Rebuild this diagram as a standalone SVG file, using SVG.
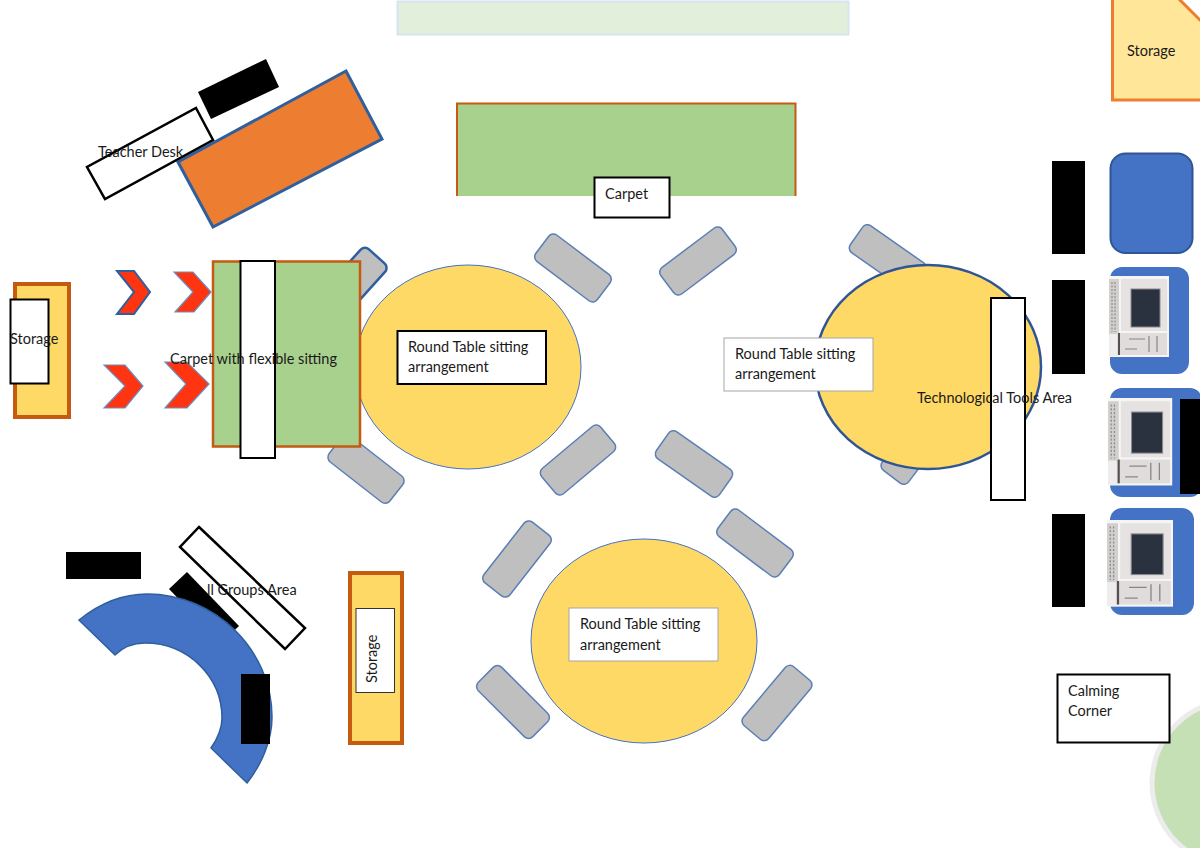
<svg xmlns="http://www.w3.org/2000/svg" width="1200" height="848" viewBox="0 0 1200 848">
<style>
text{font-family:"Lato","Open Sans","Liberation Sans",sans-serif;font-size:14.5px;fill:#1a1a1a}
.chair{fill:#bfbfbf;stroke:#5b7fb5;stroke-width:1.5}
.table{fill:#ffd966;stroke:#4472c4;stroke-width:1}
.lbl{fill:#fff;stroke:#000;stroke-width:2}
.lblthin{fill:#fff;stroke:#a6a6a6;stroke-width:1}
.blk{fill:#000}
.chev{fill:#ff3410;stroke:#6c8ebf;stroke-width:1.2}
.stor{fill:#ffd966;stroke:#c55a11;stroke-width:4}
.desk{fill:#4472c4}
</style>
<defs>
<filter id="soft" x="-5%" y="-5%" width="110%" height="110%"><feGaussianBlur stdDeviation="0.6"/></filter>
<g id="pc" filter="url(#soft)">
<rect x="0" y="0" width="60" height="81" fill="#f6f5f5"/>
<rect x="0" y="3" width="10" height="56" fill="#d2cfcf"/>
<path d="M3,6V56M6,6V56" stroke="#8f8c8c" stroke-width="1.2" stroke-dasharray="2 1.5"/>
<rect x="12" y="3" width="46" height="52" fill="#e6e2e2"/>
<rect x="22" y="13" width="29" height="38" fill="#2b3040" stroke="#8a8a8a" stroke-width="1"/>
<rect x="0" y="58" width="8" height="22" fill="#eeecec"/>
<rect x="8" y="57" width="50" height="22" fill="#e0dcdc"/>
<rect x="9" y="57" width="2" height="22" fill="#55504f"/>
<path d="M16,73H28M40,60V76M48,60V76M20,63H36" stroke="#8a8686" stroke-width="1.2"/>
</g>
<rect id="chair" x="-38.500" y="-16.500" width="77" height="33" rx="6"/>
</defs>

<rect id="banner" x="397.500" y="1.500" width="451" height="33" fill="#e2efda" stroke="#d6e4f2" stroke-width="2"/>

<g id="teacher-desk">
<polygon points="266,59 279,87 211,119 198,92" class="blk"/>
<polygon points="346,71 382,139 213,227 178,162" fill="#ed7d31" stroke="#2f5f9e" stroke-width="3"/>
<polygon points="196,108 213,140 105,199 87,167" fill="none" stroke="#000" stroke-width="2.500"/>
<text x="98" y="157">Teacher Desk</text>
</g>

<g id="carpet-top">
<rect x="457" y="103" width="339" height="93" fill="#a9d18e"/>
<path d="M457,196V103.500H795.500V196" fill="none" stroke="#c55a11" stroke-width="2"/>
<rect x="594.500" y="177.500" width="75" height="40" class="lbl"/>
<text x="605" y="199">Carpet</text>
</g>

<g id="chairs">
<use href="#chair" class="chair" transform="translate(573,268) rotate(37)"/>
<use href="#chair" class="chair" transform="translate(698,261) rotate(-37)"/>
<use href="#chair" class="chair" style="stroke:#2f5f9e;stroke-width:2.500" transform="translate(351,285) rotate(-48)"/>
<use href="#chair" class="chair" transform="translate(366,469) rotate(38)"/>
<use href="#chair" class="chair" transform="translate(578,460) rotate(-40)"/>
<use href="#chair" class="chair" transform="translate(694,464) rotate(35)"/>
<use href="#chair" class="chair" transform="translate(888,258) rotate(35)"/>
<use href="#chair" class="chair" transform="translate(915,446) rotate(-53)"/>
<use href="#chair" class="chair" transform="translate(517,559) rotate(-52)"/>
<use href="#chair" class="chair" transform="translate(755,543) rotate(37)"/>
<use href="#chair" class="chair" transform="translate(513,702) rotate(45)"/>
<use href="#chair" class="chair" transform="translate(777,703) rotate(-50)"/>
</g>

<g id="table-1">
<ellipse cx="468" cy="367" rx="113" ry="102" class="table"/>
<rect x="397.500" y="331" width="148.500" height="53" class="lbl"/>
<text x="408" y="352">Round Table sitting</text>
<text x="408" y="372">arrangement</text>
</g>

<g id="table-2">
<ellipse cx="928" cy="367" rx="113" ry="102" class="table" style="stroke:#2f5597;stroke-width:2.500"/>
<rect x="724" y="338" width="149" height="53" class="lblthin"/>
<text x="735" y="359">Round Table sitting</text>
<text x="735" y="379">arrangement</text>
</g>

<g id="table-3">
<ellipse cx="644" cy="641" rx="113" ry="102" class="table"/>
<rect x="569" y="608" width="149" height="53" class="lblthin"/>
<text x="580" y="629">Round Table sitting</text>
<text x="580" y="650">arrangement</text>
</g>

<g id="storage-left">
<rect x="15" y="284" width="54" height="133" class="stor"/>
<rect x="10.500" y="299.500" width="38" height="84" class="lbl"/>
<text x="10" y="344">Storage</text>
</g>

<g id="arrows">
<polygon points="117,271 134,271 150,292 134,314 117,314 134,292" class="chev" style="stroke:#2f5f9e;stroke-width:2"/>
<polygon points="174,272 193,272 211,292 194,312 175,312 193,292" class="chev"/>
<polygon points="104,365 125,365 143,386 125,408 104,408 125,386" class="chev"/>
<polygon points="165,362 187,362 209,384 187,408 165,408 186,384" class="chev"/>
</g>

<g id="carpet-flexible">
<rect x="213" y="261.500" width="147" height="185" fill="#a9d18e" stroke="#c55a11" stroke-width="2.500"/>
<rect x="240.500" y="261" width="34.500" height="197" class="lbl"/>
<text x="170" y="364">Carpet with flexible sitting</text>
</g>

<g id="small-groups">
<rect x="66" y="552" width="75" height="27" class="blk"/>
<polygon points="187,572 239,626 221,643 169,589" class="blk"/>
<path d="M79,620C100,603 122,594 147,594C215,594 272,650 272,717C272,740 262,764 247,783L211,748C218,738 222,728 222,718C222,677 188,643 145,643C133,643 123,647 115,655Z" fill="#4472c4" stroke="#2f5f9e" stroke-width="1.500"/>
<rect x="241" y="674" width="29" height="70" class="blk"/>
<polygon points="199,527 305,628 285,649 180,547" fill="none" stroke="#000" stroke-width="2.500"/>
<text x="207" y="595">ll Groups Area</text>
</g>

<g id="storage-mid">
<rect x="350" y="573" width="52" height="170" class="stor"/>
<rect x="356" y="608.500" width="38.500" height="84" fill="#fff" stroke="#333" stroke-width="1"/>
<text transform="translate(377,683) rotate(-90)">Storage</text>
</g>

<g id="storage-top-right">
<path d="M1112.500,-2V100H1202V22L1178,-2Z" fill="#ffe699" stroke="#ed7d31" stroke-width="3"/>
<text x="1127" y="56">Storage</text>
</g>

<g id="tech-area">
<rect x="1052" y="161" width="33" height="93" class="blk"/>
<rect x="1052" y="280" width="33" height="94" class="blk"/>
<rect x="1052" y="514" width="33" height="93" class="blk"/>
<rect x="1110.500" y="153.500" width="82" height="99.500" rx="15" class="desk" stroke="#2f5597" stroke-width="2"/>
<rect x="1110" y="267" width="79" height="107" rx="12" class="desk"/>
<rect x="1110" y="388" width="92" height="109" rx="12" class="desk"/>
<rect x="1110" y="508" width="84" height="107" rx="12" class="desk"/>
<use href="#pc" x="1109" y="276"/>
<use href="#pc" transform="translate(1108,398) scale(1.07,1.08)"/>
<use href="#pc" transform="translate(1107,520) scale(1.1,1.07)"/>
<rect x="1180" y="399" width="20" height="95" class="blk"/>
<rect x="991" y="298" width="34" height="202" class="lbl"/>
<text x="917" y="403">Technological Tools Area</text>
</g>

<g id="calming-corner">
<circle cx="1235" cy="783" r="83" fill="#c5e0b4" stroke="#ececec" stroke-width="5"/>
<rect x="1057.500" y="674.500" width="112" height="68" class="lbl"/>
<text x="1068" y="696">Calming</text>
<text x="1068" y="716">Corner</text>
</g>
</svg>
